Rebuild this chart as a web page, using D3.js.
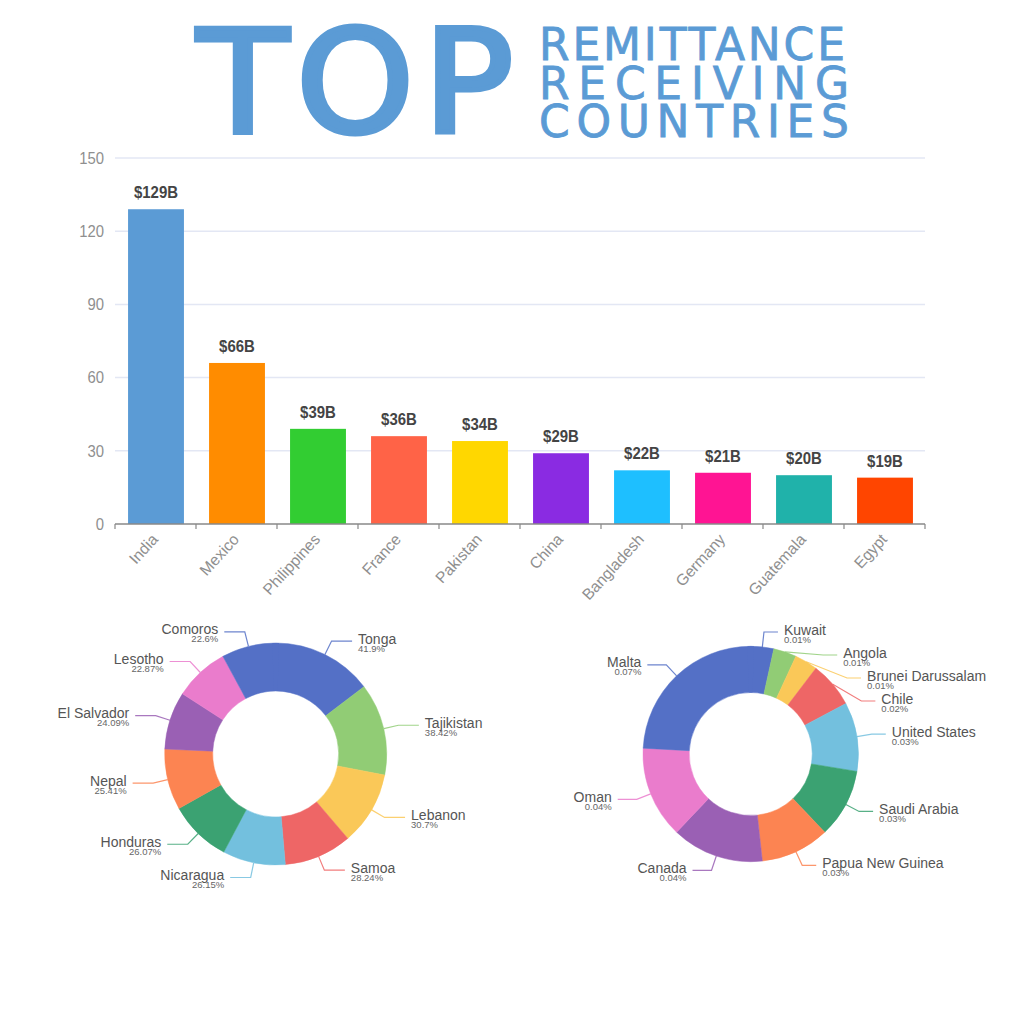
<!DOCTYPE html>
<html>
<head>
<meta charset="utf-8">
<script src="https://cdnjs.cloudflare.com/ajax/libs/d3/7.8.5/d3.min.js"></script>
<style>
html, body { margin: 0; padding: 0; background: #fff; }
svg { display: block; }
text { font-family: "Liberation Sans", Arial, sans-serif; }
</style>
</head>
<body>
<svg id="chart" width="1024" height="1024"></svg>
<script>
// bar chart data ($ billions)
const barCountries = ['India', 'Mexico', 'Philippines', 'France', 'Pakistan', 'China', 'Bangladesh', 'Germany', 'Guatemala', 'Egypt'];
const barValues = [129, 66, 39, 36, 34, 29, 22, 21, 20, 19];
const barColors = ['#5b9bd5', '#ff8c00', '#32cd32', '#ff6347', '#ffd700', '#8a2be2', '#1ebfff', '#ff1493', '#20b2aa', '#ff4500'];
const yTicks = [0, 30, 60, 90, 120, 150];

// left donut, share of GDP
const leftNames = ['Tonga', 'Tajikistan', 'Lebanon', 'Samoa', 'Nicaragua', 'Honduras', 'Nepal', 'El Salvador', 'Lesotho', 'Comoros'];
const leftValues = [41.9, 38.42, 30.7, 28.24, 26.15, 26.07, 25.41, 24.09, 22.87, 22.6];

// right donut, share of GDP
const rightNames = ['Kuwait', 'Angola', 'Brunei Darussalam', 'Chile', 'United States', 'Saudi Arabia', 'Papua New Guinea', 'Canada', 'Oman', 'Malta'];
const rightValues = [0.01, 0.01, 0.01, 0.02, 0.03, 0.03, 0.03, 0.04, 0.04, 0.07];

// the source reuses the first colour for the last slice
const donutColors = ['#5470c6', '#91cc75', '#fac858', '#ee6666', '#73c0de', '#3ba272', '#fc8452', '#9a60b4', '#ea7ccc', '#5470c6'];

const titleBlue = '#5b9bd5';
const svg = d3.select('#chart');

// title, letters placed one by one because the source is spaced unevenly
const topStretch = 1.05;
const topLetterX = [197, 296, 423];
svg.append('text')
    .attr('transform', `translate(0,132) scale(${topStretch},1)`)
    .attr('x', topLetterX.map(v => v / topStretch).join(' '))
    .style('font-family', '"DejaVu Sans"').style('font-size', '143px')
    .attr('fill', titleBlue)
    .attr('stroke', titleBlue).attr('stroke-width', 5)
    .text('TOP');

const subLines = ['REMITTANCE', 'RECEIVING', 'COUNTRIES'];
const subWidths = [306, 310, 310];
svg.selectAll('.sub').data(subLines).enter().append('text')
    .attr('class', 'sub')
    .attr('x', 539)
    .attr('y', (d, i) => 60 + i * 38.5)
    .attr('textLength', (d, i) => subWidths[i]).attr('lengthAdjust', 'spacing')
    .style('font-family', '"DejaVu Sans"').style('font-size', '44px')
    .attr('fill', titleBlue)
    .attr('stroke', titleBlue).attr('stroke-width', 0.8)
    .text(d => d);

// the source text is a bit narrower than the plain font, squeeze it after measuring
function squeeze(sel, k) {
    sel.each(function() {
        this.setAttribute('textLength', this.getComputedTextLength() * k);
        this.setAttribute('lengthAdjust', 'spacingAndGlyphs');
    });
}

// bars
const x = d3.scaleBand().domain(barCountries).range([115.5, 925.5]).paddingInner(0.31).paddingOuter(0.155);
const y = d3.scaleLinear().domain([0, 150]).range([524, 158]);

const yAxis = svg.append('g')
    .attr('transform', 'translate(115,0)')
    .call(d3.axisLeft(y).tickValues(yTicks).tickSize(0).tickPadding(11));
yAxis.select('.domain').remove();
yAxis.selectAll('text').style('font-size', '16.5px').style('font-family', '"Liberation Sans"').attr('fill', '#8f8f8f');
squeeze(yAxis.selectAll('text'), 0.9);

svg.append('g').selectAll('line').data(yTicks.slice(1)).enter().append('line')
    .attr('x1', 115).attr('x2', 925)
    .attr('y1', d => y(d)).attr('y2', d => y(d))
    .attr('stroke', '#e3e7f4').attr('stroke-width', 1.5);

svg.append('g').selectAll('rect').data(barCountries).enter().append('rect')
    .attr('x', d => x(d))
    .attr('y', (d, i) => y(barValues[i]))
    .attr('width', x.bandwidth())
    .attr('height', (d, i) => y(0) - y(barValues[i]))
    .attr('fill', (d, i) => barColors[i]);

const barLabels = svg.append('g').selectAll('text').data(barCountries).enter().append('text')
    .attr('x', d => x(d) + x.bandwidth() / 2)
    .attr('y', (d, i) => y(barValues[i]) - 11)
    .attr('text-anchor', 'middle')
    .style('font-size', '17px').style('font-weight', 'bold')
    .attr('fill', '#444')
    .text((d, i) => '$' + barValues[i] + 'B');
squeeze(barLabels, 0.88);

// x axis, ticks sit between the bars
const xAxis = svg.append('g')
    .attr('transform', 'translate(0,524)')
    .call(d3.axisBottom(x).tickSize(0).tickPadding(0));
xAxis.select('.domain').remove();
xAxis.selectAll('text')
    .style('font-size', '15.7px').style('font-family', '"Liberation Sans"')
    .attr('fill', '#8f8f8f')
    .attr('text-anchor', 'end')
    .attr('dy', 0).attr('y', 0)
    .attr('transform', 'translate(3,16) rotate(-47.5)');

const edges = d3.range(barCountries.length + 1).map(i => 115 + i * x.step());
xAxis.selectAll('.edge').data(edges).enter().append('line')
    .attr('class', 'edge')
    .attr('x1', d => d).attr('x2', d => d)
    .attr('y1', 0).attr('y2', 5)
    .attr('stroke', '#888').attr('stroke-width', 1.2);
xAxis.append('line')
    .attr('x1', 115).attr('x2', 925)
    .attr('stroke', '#888').attr('stroke-width', 1.5);

// donuts
function drawDonut(names, values, cx, cy, r0, r1, legLen, labelShift) {
    const g = svg.append('g').attr('transform', `translate(${cx},${cy})`);
    const arcs = d3.pie().sort(null)(values);
    const arc = d3.arc().innerRadius(r0).outerRadius(r1);

    g.selectAll('path.slice').data(arcs).enter().append('path')
        .attr('class', 'slice')
        .attr('d', arc)
        .attr('fill', (d, i) => donutColors[i])
        .attr('stroke', (d, i) => donutColors[i]).attr('stroke-width', 0.5);

    // first and last slice share a colour, paint over the seam between them
    g.append('path')
        .attr('d', arc({ startAngle: -0.03, endAngle: 0.03 }))
        .attr('fill', donutColors[0]);

    // label line: radial leg, then a short horizontal leg
    const bendR = r1 + 15;
    const minGap = 23;
    const labels = arcs.map((d, i) => {
        const a = (d.startAngle + d.endAngle) / 2;
        return {
            name: names[i], value: values[i], color: donutColors[i], a: a,
            right: Math.sin(a) >= 0,
            sx: r1 * Math.sin(a), sy: -r1 * Math.cos(a),
            by: -bendR * Math.cos(a)
        };
    });

    // push crowded labels apart on each side, then slide the bend along the circle
    [true, false].forEach(side => {
        const list = labels.filter(l => l.right === side).sort((p, q) => p.by - q.by);
        list.forEach((l, i) => {
            if (i > 0 && l.by < list[i - 1].by + minGap) l.by = list[i - 1].by + minGap;
            const dx = Math.sqrt(Math.max(bendR * bendR - l.by * l.by, 0));
            l.bx = side ? dx : -dx;
        });
    });

    labels.forEach(l => {
        const dir = l.right ? 1 : -1;
        const ex = l.bx + dir * legLen + labelShift;
        g.append('path')
            .attr('d', d3.line()([[l.sx, l.sy], [l.bx, l.by], [ex, l.by]]))
            .attr('fill', 'none')
            .attr('stroke', l.color).attr('stroke-width', 1.2).attr('stroke-opacity', 0.85);
        g.append('text')
            .attr('x', ex + dir * 6).attr('y', l.by + 2.5)
            .attr('text-anchor', l.right ? 'start' : 'end')
            .style('font-size', '14px')
            .attr('fill', '#555')
            .text(l.name);
        g.append('text')
            .attr('x', ex + dir * 6).attr('y', l.by + 10.5)
            .attr('text-anchor', l.right ? 'start' : 'end')
            .style('font-size', '9.5px')
            .attr('fill', '#666')
            .text(l.value + '%');
    });
}

drawDonut(leftNames, leftValues, 275.7, 754, 63, 111, 20.5, 0);
drawDonut(rightNames, rightValues, 750.7, 754, 61.5, 107.7, 16.5, -2.5);
</script>
</body>
</html>
